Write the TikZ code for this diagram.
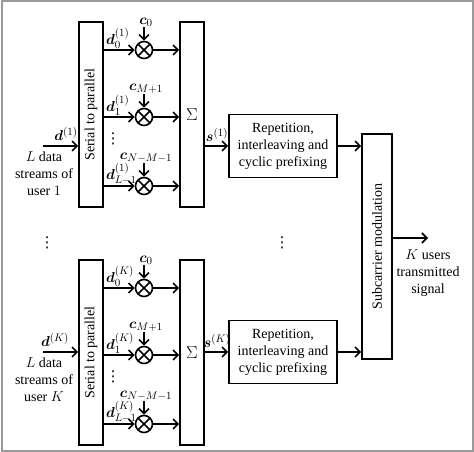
\documentclass[tikz,border=0pt]{standalone}
\usepackage{fontspec}
\setmainfont{Liberation Serif}
\newfontfamily\dotsfont{DejaVu Sans}
\usepackage{amsmath}
\usepackage{bm}
\usetikzlibrary{arrows.meta,positioning}
\definecolor{framegray}{HTML}{9A9A9A}
\tikzset{
  tallblock/.style={
    draw, line width=1.6pt, minimum width=24pt,
    minimum height=185pt, inner sep=0pt
  },
  repblock/.style={
    draw, line width=1.6pt, minimum width=108pt,
    minimum height=63pt, align=center, inner sep=0pt
  },
  mixer/.style={
    circle, draw, line width=1.6pt, minimum size=17pt, inner sep=0pt,
    path picture={
      \draw[line width=1.6pt] (path picture bounding box.south west) -- (path picture bounding box.north east)
        (path picture bounding box.north west) -- (path picture bounding box.south east);
    }
  },
  sigarrow/.style={-{Straight Barb[length=5pt,width=10pt]}, line width=1.6pt},
  lbl/.style={align=center, inner sep=0pt},
  mathlbl/.style={inner sep=0pt, font=\fontsize{15}{18}\selectfont},
  dotsnode/.style={inner sep=0pt, font=\dotsfont\fontsize{15}{18}\selectfont},
}
\begin{document}
\begin{tikzpicture}[x=1pt,y=-1pt,font=\fontsize{14}{17}\selectfont]
  \useasboundingbox (0,0) rectangle (474,452);
  \draw[framegray, line width=2pt] (1.5,1.5) rectangle (472.5,450.5);

  \node[draw, line width=1.6pt, minimum width=30pt, minimum height=225pt, inner sep=0pt] (sub) at (377,246.5)
    {\rotatebox{90}{Subcarrier modulation}};

  \foreach \u/\y/\r/\usr/\dx in {1/0/146/1/66, K/238/352/K/55} {
    \node[tallblock] (sp\u) at (91,{114.5+\y}) {\rotatebox{90}{Serial to parallel}};
    \node[tallblock] (sum\u) at (192,{114.5+\y}) {\fontsize{17}{20}\selectfont$\Sigma$};
    \node[repblock] (rep\u) at (283,\r) {Repetition,\\interleaving and\\cyclic prefixing};
    % spreading branches
    \foreach \k/\my/\dlab/\clab in {0/50/0/0, 1/117/1/M+1, 2/186/L-1/N-M-1} {
      \node[mixer] (m\u\k) at (144,{\my+\y}) {};
      \draw[sigarrow] (sp\u.east |- m\u\k) -- (m\u\k);
      \draw[sigarrow] (m\u\k) -- (sum\u.west |- m\u\k);
      \node[mathlbl, anchor=south] (c\u\k) at ([xshift=2pt,yshift=14pt]m\u\k.north) {$\bm{c}_{\clab}$};
      \draw[sigarrow] (c\u\k.south -| m\u\k) -- (m\u\k);
      \node[mathlbl, anchor=south west] (d\u\k) at ([xshift=2pt,yshift=1pt]sp\u.east |- m\u\k) {$\bm{d}_{\dlab}^{(\usr)}$};
    }
    \node[dotsnode] (vd\u) at (113,{139+\y}) {⋮};
    % input
    \coordinate (in\u) at (43,\r);
    \draw[sigarrow] (in\u) -- (in\u -| sp\u.west);
    \node[mathlbl] (dlab\u) at (\dx,{\r-12}) {$\bm{d}^{(\usr)}$};
    \node[lbl] (src\u) at (44,{\r+28}) {$L$ data\\streams of\\user $\usr$};
    % to modulator
    \draw[sigarrow] (sum\u.east |- rep\u.west) -- (rep\u.west);
    \node[mathlbl] (s\u) at (217,{\r-11}) {$\bm{s}^{(\usr)}$};
    \draw[sigarrow] (rep\u.east) -- (rep\u.east -| sub.west);
  }

  \node[dotsnode] (dotsl) at (47,243) {⋮};
  \node[dotsnode] (dotsm) at (282,243) {⋮};

  \coordinate (out) at (428,238);
  \draw[sigarrow] (sub.east |- out) -- (out);
  \node[lbl] (txsig) at (428,273) {$K$ users\\transmitted\\signal};
\end{tikzpicture}
\end{document}
